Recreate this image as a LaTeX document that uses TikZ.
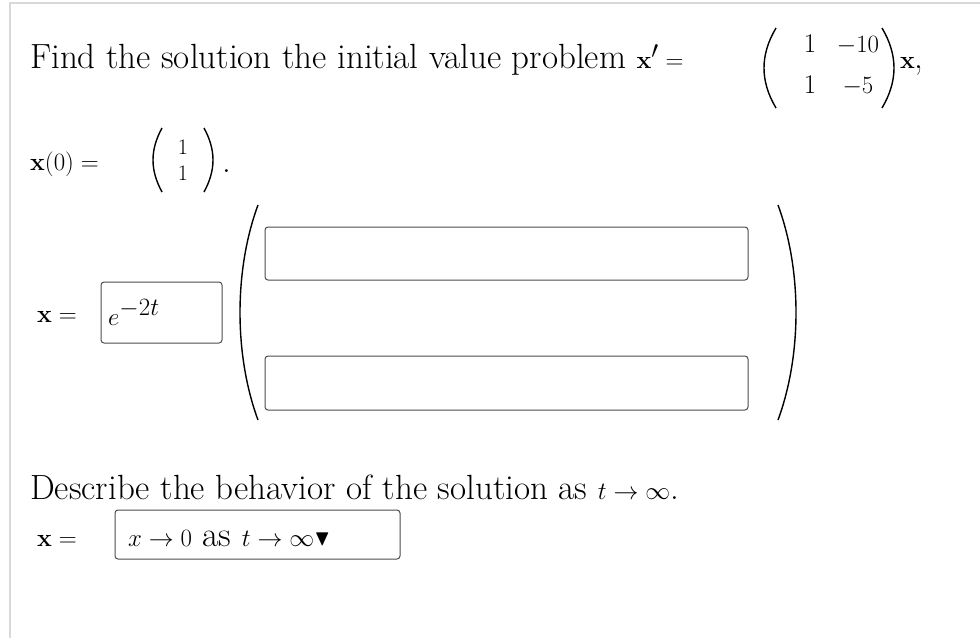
\documentclass[tikz,border=0pt]{standalone}
\usepackage{amsmath,amssymb}
\begin{document}
\begin{tikzpicture}[x=1pt,y=-1pt,
  txt/.style={anchor=base west,inner sep=0pt,font=\fontsize{35}{40}\selectfont},
  ent/.style={anchor=base,inner sep=0pt,font=\fontsize{27}{30}\selectfont},
  paren/.style={line width=1.4pt},
  inbox/.style={draw=black!70,line width=1pt,rounded corners=3pt}]
\useasboundingbox (0,0) rectangle (980,638);
\draw[black!15,line width=2pt] (10,638) -- (10,3) -- (980,3);
% line 1
\node[txt] (l1) at (30,68) {Find the solution the initial value problem $\mathbf{x}'=$};
\draw[paren] (776,28) .. controls (760,55) and (760,81) .. (776,108);
\draw[paren] (882,28) .. controls (898,55) and (898,81) .. (882,108);
\node[ent] (a11) at (810,52) {1};
\node[ent] (a12) at (858,52) {$-10$};
\node[ent] (a21) at (810,93) {1};
\node[ent] (a22) at (858,93) {$-5$};
\node[txt] (xc) at (900,68) {$\mathbf{x}$,};
% line 2
\node[txt] (x0) at (30,170) {$\mathbf{x}(0)=$};
\draw[paren] (162,128) .. controls (150,150) and (150,170) .. (162,192);
\draw[paren] (204,128) .. controls (216,150) and (216,170) .. (204,192);
\node[ent,font=\fontsize{22}{26}\selectfont] (b1) at (183,154) {1};
\node[ent,font=\fontsize{22}{26}\selectfont] (b2) at (183,180) {1};
\node[txt] (dot) at (222,172) {.};
% solution
\node[txt] (xeq) at (37,322) {$\mathbf{x}=$};
\draw[inbox] (101,282) rectangle (222,343);
\node[txt] (e2t) at (108,325) {$e^{-2t}$};
\draw[paren] (258,205) .. controls (234,270) and (234,355) .. (258,420);
\draw[paren] (778,205) .. controls (802,270) and (802,355) .. (778,420);
\draw[inbox] (265,227) rectangle (748,280);
\draw[inbox] (265,356) rectangle (748,410);
% describe
\node[txt] (desc) at (30,499) {Describe the behavior of the solution as $t\to\infty$.};
\node[txt] (xeq2) at (37,546) {$\mathbf{x}=$};
\draw[inbox] (115,510) rectangle (400,559);
\node[txt] (dd) at (128,546) {$x\to0$ as $t\to\infty$\raisebox{1pt}{\fontsize{22}{26}\selectfont$\blacktriangledown$}};
\end{tikzpicture}
\end{document}
